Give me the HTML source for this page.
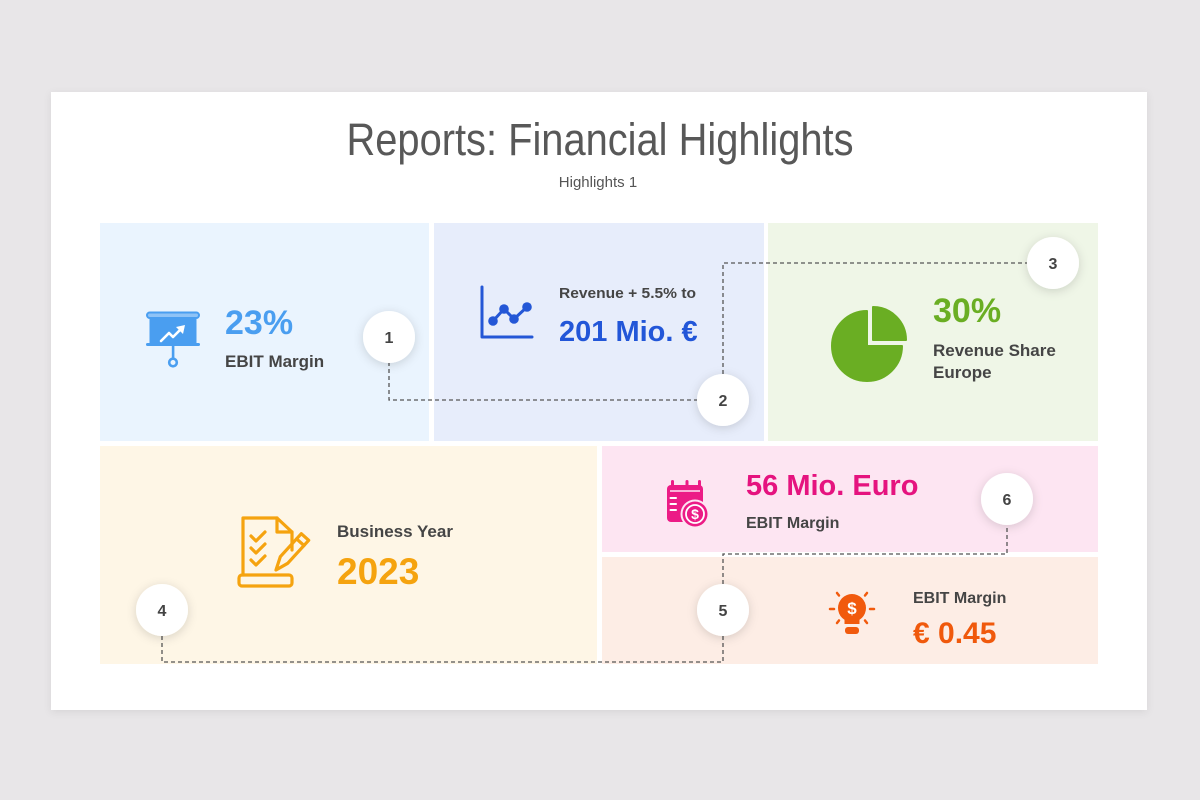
<!DOCTYPE html>
<html>
<head>
<meta charset="utf-8">
<style>
html,body{margin:0;padding:0;width:1200px;height:800px;overflow:hidden;background:#e8e6e8;}
svg{display:block;font-family:"Liberation Sans",Arial,sans-serif;}
</style>
</head>
<body>
<svg width="1200" height="800" viewBox="0 0 1200 800" xmlns="http://www.w3.org/2000/svg">
<defs>
<filter id="ss" x="-5%" y="-5%" width="110%" height="110%"><feDropShadow dx="0" dy="2" stdDeviation="4" flood-color="#000" flood-opacity="0.08"/></filter>
<filter id="cs" x="-60%" y="-60%" width="220%" height="220%"><feDropShadow dx="0" dy="2" stdDeviation="5" flood-color="#000" flood-opacity="0.15"/></filter>
</defs>
<rect width="1200" height="800" fill="#e8e6e8"/>
<rect x="51" y="92" width="1096" height="618" fill="#ffffff" filter="url(#ss)"/>

<!-- panels -->
<rect x="100" y="223" width="329" height="218" fill="#eaf4fe"/>
<rect x="434" y="223" width="330" height="218" fill="#e7edfb"/>
<rect x="768" y="223" width="330" height="218" fill="#eff6e7"/>
<rect x="100" y="446" width="497" height="218" fill="#fef6e6"/>
<rect x="602" y="446" width="496" height="106" fill="#fde5f2"/>
<rect x="602" y="557" width="496" height="107" fill="#fdede5"/>

<!-- title -->
<text x="600" y="155" text-anchor="middle" font-size="45" textLength="507" lengthAdjust="spacingAndGlyphs" fill="#585858">Reports: Financial Highlights</text>
<text x="598" y="187" text-anchor="middle" font-size="15" fill="#555">Highlights 1</text>

<!-- dashed connectors -->
<g fill="none" stroke="#555" stroke-width="1.3" stroke-dasharray="4 3">
<path d="M389,362 L389,400 L697,400"/>
<path d="M723,374 L723,263 L1027,263"/>
<path d="M162,636 L162,662 L723,662 L723,636"/>
<path d="M723,584 L723,554 L1007,554 L1007,525"/>
</g>

<!-- Panel 1 icon: presentation -->
<g>
<rect x="147" y="312.5" width="52" height="5.5" rx="2.75" fill="#8fc3f6" stroke="#4a9ef0" stroke-width="2"/>
<rect x="149.5" y="318" width="47" height="26" fill="#4a9ef0"/>
<rect x="146" y="343" width="54" height="3" rx="1.5" fill="#4a9ef0"/>
<rect x="171.8" y="345" width="2.6" height="14" fill="#4a9ef0"/>
<circle cx="173" cy="362.5" r="3.8" fill="none" stroke="#4a9ef0" stroke-width="2.6"/>
<polyline points="161,341 169,333 173,337 181,329" fill="none" stroke="#fff" stroke-width="2.6" stroke-linecap="round" stroke-linejoin="round"/>
<polygon points="176,327 185,325 183,334" fill="#fff"/>
</g>
<text x="225" y="334" font-size="34" font-weight="bold" fill="#4a9ef0">23%</text>
<text x="225" y="367" font-size="17" font-weight="bold" fill="#454545">EBIT Margin</text>

<!-- Panel 2 icon: line chart -->
<g stroke="#2457d6" stroke-width="3" fill="none" stroke-linecap="round" stroke-linejoin="round">
<polyline points="482,287 482,337 532,337"/>
<polyline points="493,321 504,309 514,319 527,307"/>
</g>
<g fill="#2457d6">
<circle cx="493" cy="321" r="4.8"/><circle cx="504" cy="309" r="4.8"/><circle cx="514" cy="319" r="4.8"/><circle cx="527" cy="307" r="4.8"/>
</g>
<text x="559" y="298" font-size="15" font-weight="bold" fill="#454545" textLength="137" lengthAdjust="spacingAndGlyphs">Revenue + 5.5% to</text>
<text x="559" y="341" font-size="29" font-weight="bold" fill="#2256d8">201 Mio. €</text>

<!-- Panel 3 icon: pie -->
<g fill="#6aae23" stroke="#6aae23" stroke-width="2" stroke-linejoin="round">
<path d="M867,346 L867,311 A35,35 0 1,0 902,346 Z"/>
<path d="M873,340 L873,307 A33,33 0 0,1 906,340 Z"/>
</g>
<text x="933" y="322" font-size="34" font-weight="bold" fill="#6aae23">30%</text>
<text x="933" y="356" font-size="17" font-weight="bold" fill="#454545">Revenue Share</text>
<text x="933" y="378" font-size="17" font-weight="bold" fill="#454545">Europe</text>

<!-- Panel 4 icon: checklist + pencil -->
<g fill="none" stroke="#f5a30f" stroke-width="3.2" stroke-linejoin="round" stroke-linecap="round">
<path d="M243,575 L243,518 L277,518 L292,532 L292,550"/>
<path d="M277,518 L277,532 L292,532"/>
<polyline points="251,536 256,541 265,532"/>
<polyline points="251,548 256,553 265,544"/>
<polyline points="251,560 256,565 265,556"/>
<rect x="239" y="575" width="53" height="11" rx="3"/>
<polygon points="308.7,540.3 301.3,533.7 280.3,556.7 276,570 287.7,563.3"/>
<line x1="304" y1="545.5" x2="296.6" y2="538.9"/>
</g>
<text x="337" y="537" font-size="17" font-weight="bold" fill="#454545">Business Year</text>
<text x="337" y="584" font-size="37" font-weight="bold" fill="#f5a30f">2023</text>

<!-- Pink icon: calendar dollar -->
<g>
<rect x="667" y="485" width="36" height="37" rx="4" fill="#ec1b86"/>
<line x1="670" y1="491" x2="700" y2="491" stroke="#fde5f2" stroke-width="1.5"/>
<rect x="671" y="480" width="3" height="8" rx="1.5" fill="#ec1b86"/>
<rect x="685.5" y="480" width="3" height="8" rx="1.5" fill="#ec1b86"/>
<rect x="698" y="480" width="3" height="8" rx="1.5" fill="#ec1b86"/>
<g stroke="#fff" stroke-width="2" stroke-linecap="round">
<line x1="670.5" y1="498" x2="676" y2="498"/>
<line x1="670.5" y1="504" x2="676" y2="504"/>
<line x1="670.5" y1="510" x2="676" y2="510"/>
</g>
<circle cx="695" cy="514" r="14.5" fill="#fde5f2"/>
<circle cx="695" cy="514" r="12.5" fill="#ec1b86"/>
<circle cx="695" cy="514" r="9" fill="none" stroke="#fff" stroke-width="1.8"/>
<text x="695" y="519" text-anchor="middle" font-size="14" font-weight="bold" fill="#fff">$</text>
</g>
<text x="746" y="495" font-size="29" font-weight="bold" fill="#e5137f">56 Mio. Euro</text>
<text x="746" y="528" font-size="16" font-weight="bold" fill="#454545">EBIT Margin</text>

<!-- Peach icon: bulb dollar -->
<g fill="#f15a0d">
<circle cx="852" cy="608" r="14"/>
<rect x="844.5" y="614" width="15" height="10"/>
<rect x="845" y="627" width="14" height="7" rx="3"/>
</g>
<g stroke="#f15a0d" stroke-width="2.5" stroke-linecap="round">
<line x1="830" y1="609" x2="834" y2="609"/>
<line x1="870" y1="609" x2="874" y2="609"/>
<line x1="837" y1="593" x2="839" y2="595.5"/>
<line x1="867" y1="593" x2="865" y2="595.5"/>
<line x1="837" y1="623" x2="839" y2="620.5"/>
<line x1="867" y1="623" x2="865" y2="620.5"/>
</g>
<text x="852" y="614" text-anchor="middle" font-size="17" font-weight="bold" fill="#fff">$</text>
<text x="913" y="603" font-size="16" font-weight="bold" fill="#454545">EBIT Margin</text>
<text x="913" y="643" font-size="30" font-weight="bold" fill="#f0590c">€ 0.45</text>

<!-- numbered circles -->
<g filter="url(#cs)" fill="#fff">
<circle cx="389" cy="337" r="26"/>
<circle cx="723" cy="400" r="26"/>
<circle cx="1053" cy="263" r="26"/>
<circle cx="162" cy="610" r="26"/>
<circle cx="723" cy="610" r="26"/>
<circle cx="1007" cy="499" r="26"/>
</g>
<g font-size="16" font-weight="bold" fill="#444" text-anchor="middle">
<text x="389" y="343">1</text>
<text x="723" y="406">2</text>
<text x="1053" y="269">3</text>
<text x="162" y="616">4</text>
<text x="723" y="616">5</text>
<text x="1007" y="505">6</text>
</g>
</svg>
</body>
</html>
